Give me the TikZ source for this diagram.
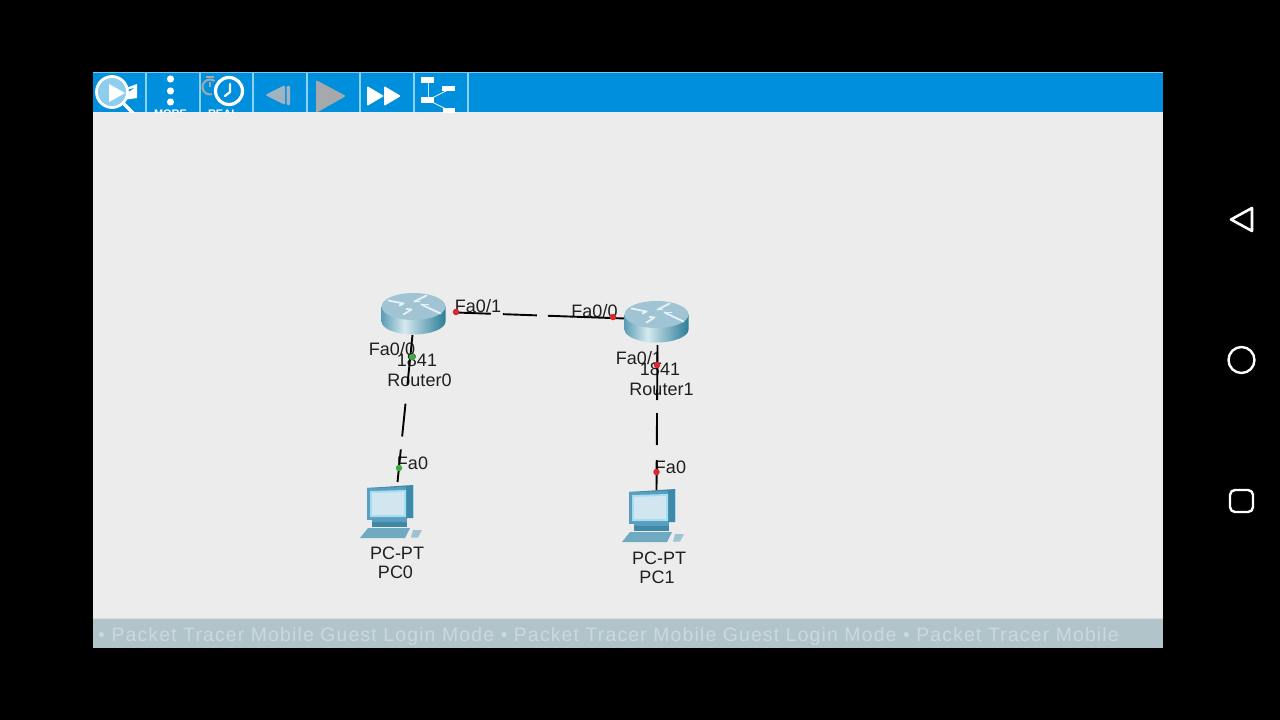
\documentclass[tikz,border=0pt]{standalone}
\usepackage{fontspec}
\setmainfont{Liberation Sans}
\newfontfamily\footfont[LetterSpace=6]{Liberation Sans}
\definecolor{tb}{HTML}{008FDD}\definecolor{tbl}{HTML}{7CCBEF}\definecolor{tbs}{HTML}{8AD2F2}
\definecolor{panel}{HTML}{ECECEC}\definecolor{footb}{HTML}{B1C4CA}\definecolor{footc}{HTML}{CFE0E6}\definecolor{foott}{HTML}{CBD9DE}
\definecolor{rL}{HTML}{5C9DB5}\definecolor{rM}{HTML}{D6E9EE}\definecolor{rR}{HTML}{2C7E98}\definecolor{rT}{HTML}{A0C4D3}\definecolor{rA}{HTML}{E6F2F6}
\definecolor{pcL}{HTML}{6FA9C2}\definecolor{pcF}{HTML}{5B9DBC}\definecolor{pcD}{HTML}{3E88A8}\definecolor{pcS}{HTML}{B5E2F3}\definecolor{pcH}{HTML}{D2E6EF}\definecolor{pcE}{HTML}{A3DDF2}\definecolor{pcM}{HTML}{9DC3D2}
\definecolor{portr}{HTML}{D8272E}\definecolor{portg}{HTML}{3DAE3D}\definecolor{gry}{HTML}{A6A9AB}\definecolor{gryb}{HTML}{9FB3C0}
\pgfdeclarehorizontalshading{routerbody}{100bp}{color(0bp)=(rL);color(25bp)=(rL);color(43bp)=(rM);color(52bp)=(rM!70!rR);color(75bp)=(rR);color(100bp)=(rR)}
\begin{document}
\begin{tikzpicture}[x=1pt,y=-1pt,line join=round,
  lbl/.style={inner sep=0pt,font=\fontsize{18}{18}\selectfont,text=black!88},
  foot/.style={inner sep=0pt,anchor=west,font=\footfont\fontsize{19.4}{20}\selectfont,text=foott},
  link/.style={draw=black,line width=1.9pt},
  portred/.style={circle,fill=portr,inner sep=0pt,minimum size=6.5pt},
  portgreen/.style={circle,fill=portg,inner sep=0pt,minimum size=6.5pt},
  icon/.style={draw=white,line width=3pt,line cap=round},
  toolhead/.style={inner sep=0pt,font=\bfseries\fontsize{11}{11}\selectfont,text=white},
  router/.pic={
    \shade[shading=routerbody] (-32,0) -- (-32,15) arc[start angle=180,end angle=0,x radius=32,y radius=13] -- (32,0) -- cycle;
    \fill[rT] (0,0) ellipse[x radius=32,y radius=13.5];
    \begin{scope}[draw=rA,line width=1.8pt,line cap=round]
      \draw (-25,-6) -- (-10,-3);\draw (-10,-3) -- (-14,-1);
      \draw (27,7) -- (8,-2);\draw (8,-2) -- (15,-2);
      \draw (-2,3) -- (-10,8);\draw (-2,3) -- (-7,2.5);
      \draw (1,-5) -- (13,-11);\draw (1,-5) -- (6,-5);
    \end{scope}
  },
  pcicon/.pic={
    \fill[pcD] (-25,-23) -- (21,-26) -- (21,7) -- (-25,9) -- cycle;
    \fill[pcF] (-25,-23) -- (14,-24) -- (14,8) -- (-25,9) -- cycle;
    \fill[pcE] (-22,-20) -- (14,-21) -- (14,6) -- (-22,6) -- cycle;
    \fill[pcH] (-20,-18) -- (12,-19) -- (12,4) -- (-20,4) -- cycle;
    \draw[pcE,line width=.8pt] (21,-26) -- (21,7);
    \fill[pcF] (-20,7) -- (15,7) -- (15,11) -- (-20,11) -- cycle;
    \fill[pcD] (-20,11) -- (15,11) -- (15,16) -- (-20,16) -- cycle;
    \fill[pcL] (-24,17) -- (18,17) -- (13,27) -- (-32,27) -- cycle;
    \fill[pcM] (21,19) -- (30,19) -- (26,26.5) -- (19,26.5) -- cycle;
  }]
\useasboundingbox (0,0) rectangle (1280,720);
\fill[black] (0,0) rectangle (1280,720);
% panel
\fill[panel] (93,112) rectangle (1163,618);
\fill[tb] (93,72) rectangle (1163,112);
\draw[tbl,line width=1pt] (93,72.5) -- (1163,72.5);
\foreach \sx in {145.5,199.5,252.5,306.5,359.5,413.5,467.5}{\draw[tbs,line width=2pt] (\sx,73) -- (\sx,112);}
\fill[footb] (93,618) rectangle (1163,648);
\draw[footc,line width=1pt] (93,618.5) -- (1163,618.5);
% footer text
\begin{scope}
\clip (93,618) rectangle (1163,648);
\node[foot] (f1) at (98,636.5) {• Packet Tracer Mobile Guest Login Mode • Packet Tracer Mobile Guest Login Mode • Packet Tracer Mobile};
\end{scope}
% toolbar icons
\begin{scope}
\clip (93,72) rectangle (1163,112);
\fill[white] (123,89) -- (137,84) -- (137,98) -- (123,100) -- cycle;
\fill[tb] (125,90.5) -- (134,88) -- (127,93) -- cycle;
\fill[tb!45!white] (112,92) circle[radius=15];
\fill[white] (109,84) -- (125,93) -- (109,102) -- cycle;
\draw[icon,line width=2.8pt] (112,92) circle[radius=15.5];
\draw[icon,line width=3.5pt] (124,104) -- (134,114);
\foreach \iy in {79,91,102}{\fill[white] (170.5,\iy) circle[radius=3.6];}
\node[toolhead] (t1) at (170.5,113.5) {MORE};
\node[toolhead] (t2) at (223,113.5) {REAL};
\draw[gry,line width=2pt] (210,87) circle[radius=7.5];
\draw[gry,line width=1.5pt] (206,77) -- (214,77);\draw[gry,line width=1.5pt] (210,87) -- (210,82);
\draw[tb,line width=5pt] (229,91) circle[radius=15];
\fill[tb] (229,91) circle[radius=13];
\draw[white,line width=3.2pt] (229,91) circle[radius=13.5];
\draw[white,line width=2.2pt,line cap=round] (230,84) -- (230,92) -- (225,96);
\fill[gryb,rounded corners=1.5pt] (285,85) -- (285,105) -- (265,95) -- cycle;
\fill[gryb,rounded corners=1pt] (286.5,86) rectangle (290,105);
\fill[gry,rounded corners=2pt] (316,80) -- (346,96) -- (316,113) -- cycle;
\fill[white,rounded corners=1pt] (367,86) -- (384,96) -- (367,106) -- cycle;
\fill[white,rounded corners=1pt] (384,86) -- (401,96) -- (384,106) -- cycle;
\draw[tbl!40!white,line width=1pt] (428,82) -- (428,100);
\draw[tbl!40!white,line width=1pt] (428,100) -- (448,90);
\draw[tbl!40!white,line width=1pt] (428,100) -- (448,110);
\fill[white] (421,77) rectangle (434,83);
\fill[white] (442,86) rectangle (455,91);
\fill[white] (421,97) rectangle (434,103);
\fill[white] (443,108) rectangle (455,115);
\end{scope}
% labels under connectors
\node[lbl] (l0) at (478,306) {Fa0/1};
\node[lbl] (l1) at (594.5,311.5) {Fa0/0};
\node[lbl] (l2) at (392,349) {Fa0/0};
\node[lbl] (l3) at (417,360.5) {1841};
\node[lbl] (l4) at (419.5,380) {Router0};
\node[lbl] (l5) at (639,358) {Fa0/1};
\node[lbl] (l6) at (660,369.5) {1841};
\node[lbl] (l7) at (661.5,389) {Router1};
\node[lbl] (l8) at (412.5,463) {Fa0};
\node[lbl] (l9) at (670.5,467) {Fa0};
\node[lbl] (l10) at (397,553) {PC-PT};
\node[lbl] (l11) at (395.5,572) {PC0};
\node[lbl] (l12) at (659,558) {PC-PT};
\node[lbl] (l13) at (657,577) {PC1};
% connector ends
\coordinate (r0e) at (456,312.5);
\coordinate (r1w) at (625,318.5);
\coordinate (r0s) at (412.5,335);
\coordinate (pc0n) at (397.5,482);
\coordinate (r1s) at (657.5,345);
\coordinate (pc1n) at (656.5,490);
% connectors
\draw[link,dash pattern=on 35pt off 12pt on 34pt off 11pt on 90pt] (r0e) -- (r1w);
\draw[link,dash pattern=on 50pt off 19pt on 33pt off 13pt on 40pt] (r0s) -- (pc0n);
\draw[link,dash pattern=on 55pt off 13pt on 32pt off 15pt on 40pt] (r1s) -- (pc1n);
% devices
\pic (router0) at (413.5,306.5) {router};
\pic (router1) at (656.5,314.5) {router};
\pic (pc0) at (392,511) {pcicon};
\pic (pc1) at (654,515) {pcicon};
% link lights
\node[portred] (d0) at (456,312) {};
\node[portred] (d1) at (613,317) {};
\node[portgreen] (d2) at (412,357) {};
\node[portred] (d3) at (657,365) {};
\node[portgreen] (d4) at (399,468) {};
\node[portred] (d5) at (656.5,472) {};
% nav bar
\draw[white,line width=2.6pt] (1252,208) -- (1252,231) -- (1231,219.5) -- cycle;
\draw[white,line width=2.4pt] (1241.5,360) circle[radius=13];
\draw[white,line width=2.4pt,rounded corners=5pt] (1230,490) rectangle (1253,512);
\end{tikzpicture}
\end{document}
